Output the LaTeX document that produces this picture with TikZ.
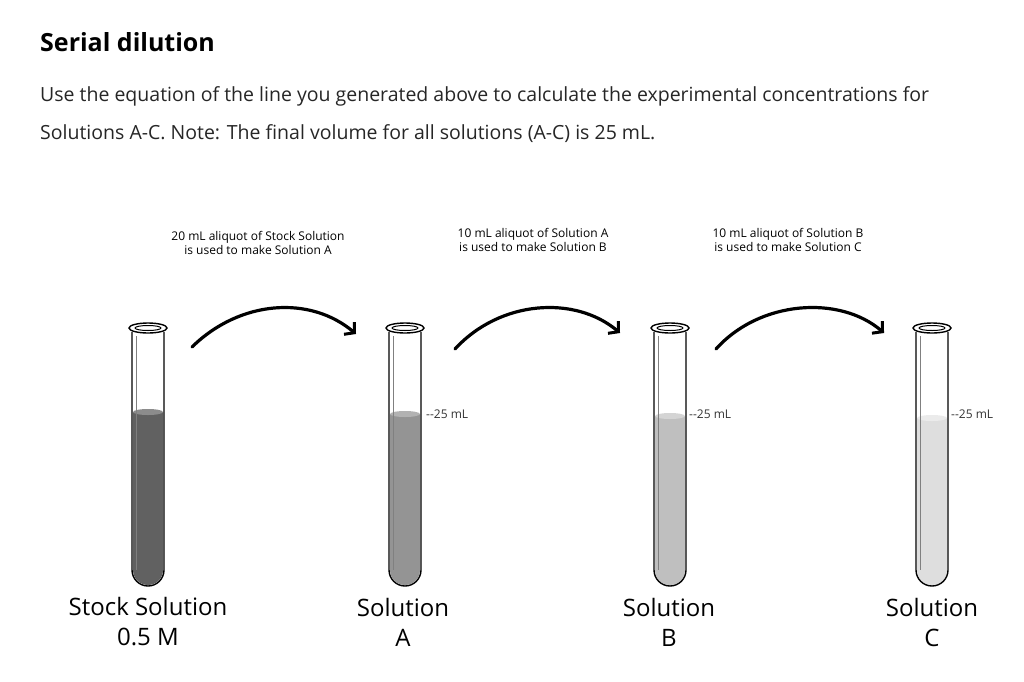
\documentclass[tikz,border=0pt]{standalone}
\usepackage{fontspec}
\setmainfont{Open Sans}
\usetikzlibrary{arrows.meta}
\begin{document}
\begin{tikzpicture}[x=1pt,y=-1pt,
  lbl/.style={font=\fontsize{12}{14}\selectfont,align=center,inner sep=0},
  big/.style={font=\fontsize{24}{30}\selectfont,align=center,inner sep=0},
  ml/.style={font=\fontsize{12}{13}\selectfont,anchor=west,inner sep=0,text=black!80},
  arc/.style={line width=3.2pt,line cap=round,-{Straight Barb[length=7pt,width=16pt,line width=3pt]}}]
\useasboundingbox (0,0) rectangle (1024,681);
\node[anchor=west,inner sep=0,font=\bfseries\fontsize{25}{30}\selectfont] (title) at (40,42) {Serial dilution};
\node[anchor=west,inner sep=0,font=\fontsize{19.5}{24}\selectfont,text=black!85] (body1) at (40,96)
 {Use the equation of the line you generated above to calculate the experimental concentrations for};
\node[anchor=west,inner sep=0,font=\fontsize{19.5}{24}\selectfont,text=black!85] (body2) at (40,134)
 {Solutions A-C. Note: The final volume for all solutions (A-C) is 25 mL.};
\newcommand{\tube}[5]{% x, fill, liquidtop, name, meniscus
  \fill[#2] (#1-15,#3) -- (#1-15,570) arc[start angle=180,end angle=0,radius=15] -- (#1+15,#3) -- cycle;
  \fill[#5] (#1,#3) ellipse[x radius=15,y radius=3];
  \draw[line width=1.4pt] (#1-16,332) -- (#1-16,570) arc[start angle=180,end angle=0,radius=16] -- (#1+16,332);
  \draw[line width=0.5pt,black!50] (#1-12,336) -- (#1-12,570);
  \draw[line width=1.4pt,fill=white] (#1,328) ellipse[x radius=19,y radius=5];
  \draw[line width=1pt] (#1,328) ellipse[x radius=13,y radius=2.5];
  \coordinate (#4) at (#1,328);
}
\tube{148}{black!62}{412}{t0}{black!45}
\tube{405}{black!42}{414}{t1}{black!30}
\tube{670}{black!25}{416}{t2}{black!17}
\tube{932}{black!13}{418}{t3}{black!8}
\node[ml] (m1) at (426,414) {{-}{-}25 mL};
\node[ml] (m2) at (689,414) {{-}{-}25 mL};
\node[ml] (m3) at (951,414) {{-}{-}25 mL};
\node[lbl] (l1) at (258,243) {20 mL aliquot of Stock Solution\\is used to make Solution A};
\node[lbl] (l2) at (533,240) {10 mL aliquot of Solution A\\is used to make Solution B};
\node[lbl] (l3) at (788,240) {10 mL aliquot of Solution B\\is used to make Solution C};
\coordinate (a0) at (192,347); \coordinate (a1) at (356,334);
\coordinate (b0) at (455,349); \coordinate (b1) at (620,333);
\coordinate (c0) at (716,349); \coordinate (c1) at (884,333);
\draw[arc] (a0) .. controls (240,300) and (310,295) .. (a1);
\draw[arc] (b0) .. controls (500,300) and (575,295) .. (b1);
\draw[arc] (c0) .. controls (760,300) and (840,295) .. (c1);
\node[big] (n0) at (148,622) {Stock Solution\\0.5 M};
\node[big] (n1) at (403,622) {Solution\\A};
\node[big] (n2) at (669,622) {Solution\\B};
\node[big] (n3) at (932,622) {Solution\\C};
\end{tikzpicture}
\end{document}
